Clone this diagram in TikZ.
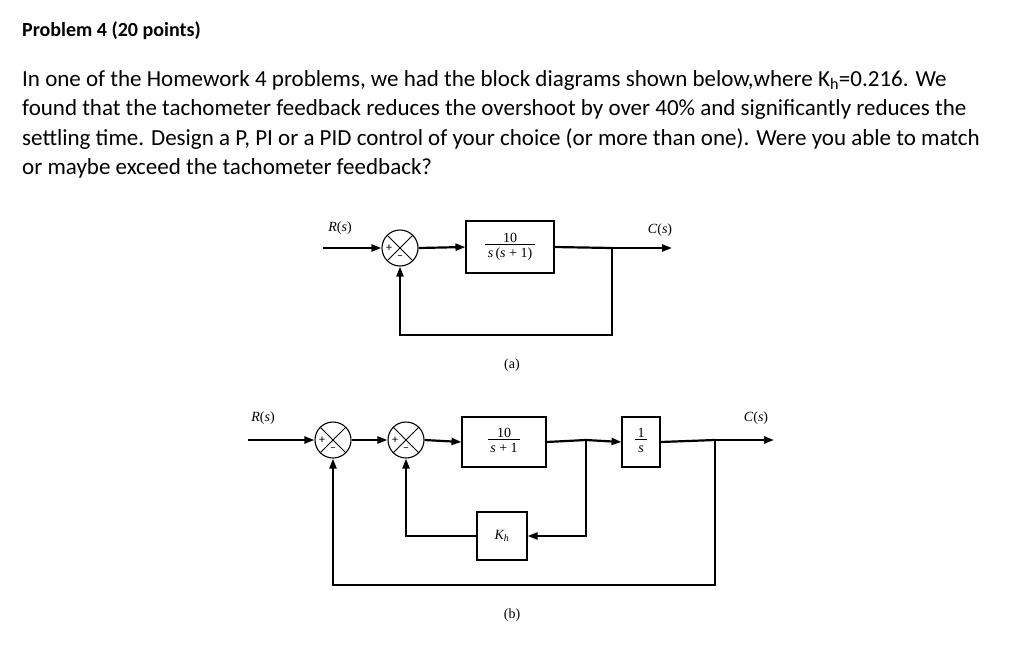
\documentclass[tikz,border=0pt]{standalone}
\usepackage{fontspec}
\setmainfont{Carlito}
\newfontfamily\tms{Liberation Serif}
\usetikzlibrary{arrows.meta}
\newcommand\fr[2]{\begin{tabular}{@{\,}c@{\,}}#1\\[-3pt]\hline\rule{0pt}{13pt}#2\end{tabular}}
\begin{document}
\begin{tikzpicture}[x=1pt,y=-1pt,
  sig/.style={line width=2.2pt,-{Triangle[length=10pt,width=7pt]}},
  ln/.style={line width=2.2pt},
  blk/.style={draw,line width=1.1pt,inner sep=0pt,font=\tms\fontsize{14}{15}\selectfont},
  sum/.style={draw,line width=1.1pt,circle,minimum size=36pt,inner sep=0pt},
  lab/.style={font=\tms\fontsize{14}{15}\selectfont},
  txt/.style={anchor=west,font=\fontsize{23}{26}\selectfont,inner sep=0pt}]
\useasboundingbox (0,0) rectangle (1024,653);
\node[txt,font=\bfseries\fontsize{20}{22}\selectfont] (title) at (22,31) {Problem 4 (20 points)};
\node[txt] (l1) at (22,80) {In one of the Homework 4 problems, we had the block diagrams shown below,where K\textsubscript{h}=0.216. We};
\node[txt] (l2) at (22,109) {found that the tachometer feedback reduces the overshoot by over 40\% and significantly reduces the};
\node[txt] (l3) at (22,139) {settling time. Design a P, PI or a PID control of your choice (or more than one). Were you able to match};
\node[txt] (l4) at (22,168) {or maybe exceed the tachometer feedback?};
\newcommand\summer[2]{%
 \node[sum] (#1) at #2 {};
 \draw[line width=0.8pt] (#1.north west)--(#1.south east) (#1.north east)--(#1.south west);
 \node[font=\fontsize{12}{12}\selectfont,inner sep=0pt] at ([xshift=-11pt]#1.center) {+};
 \node[font=\fontsize{12}{12}\selectfont,inner sep=0pt] at ([yshift=-10pt]#1.center) {--};}
% (a)
\coordinate (ain) at (323,248);
\summer{as}{(400,248)}
\node[blk,minimum width=88pt,minimum height=52pt] (ag) at (510,247) {\fr{10}{\textit{s}\,(\textit{s} + 1)}};
\coordinate (ab) at (612,248);
\coordinate (aout) at (672,248);
\coordinate (abr) at (612,335);
\coordinate (abl) at (400,335);
\draw[sig] (ain)--(as.west);
\draw[sig] (as.east)--(ag.west);
\draw[ln] (ag.east)--(ab);
\draw[sig] (ab)--(aout);
\draw[sig] (ab)--(abr)--(abl)--(as.south);
\node[lab] (ar) at (340,228) {\textit{R}(\textit{s})};
\node[lab] (ac) at (660,230) {\textit{C}(\textit{s})};
\node[lab] (acap) at (512,365) {(a)};
% (b)
\coordinate (bin) at (248,440);
\summer{bs1}{(333,440)}
\summer{bs2}{(406,440)}
\node[blk,minimum width=84pt,minimum height=50pt] (bg1) at (504,442) {\fr{10}{\textit{s} + 1}};
\node[blk,minimum width=38pt,minimum height=50pt] (bg2) at (641,442) {\fr{1}{\textit{s}}};
\node[blk,minimum width=50pt,minimum height=48pt] (kh) at (502,536) {\textit{K\textsubscript{h}}};
\coordinate (b1) at (586,440);
\coordinate (b2) at (715,440);
\coordinate (bout) at (774,440);
\coordinate (b1d) at (586,536);
\coordinate (khl) at (406,536);
\coordinate (b2d) at (715,585);
\coordinate (bl) at (333,585);
\draw[sig] (bin)--(bs1.west);
\draw[sig] (bs1.east)--(bs2.west);
\draw[sig] (bs2.east)--(bg1.west);
\draw[ln] (bg1.east)--(b1);
\draw[sig] (b1)--(bg2.west);
\draw[ln] (bg2.east)--(b2);
\draw[sig] (b2)--(bout);
\draw[sig] (b1)--(b1d)--(kh.east);
\draw[sig] (kh.west)--(khl)--(bs2.south);
\draw[sig] (b2)--(b2d)--(bl)--(bs1.south);
\node[lab] (br) at (263,418) {\textit{R}(\textit{s})};
\node[lab] (bc) at (756,418) {\textit{C}(\textit{s})};
\node[lab] (bcap) at (512,615) {(b)};
\end{tikzpicture}
\end{document}
